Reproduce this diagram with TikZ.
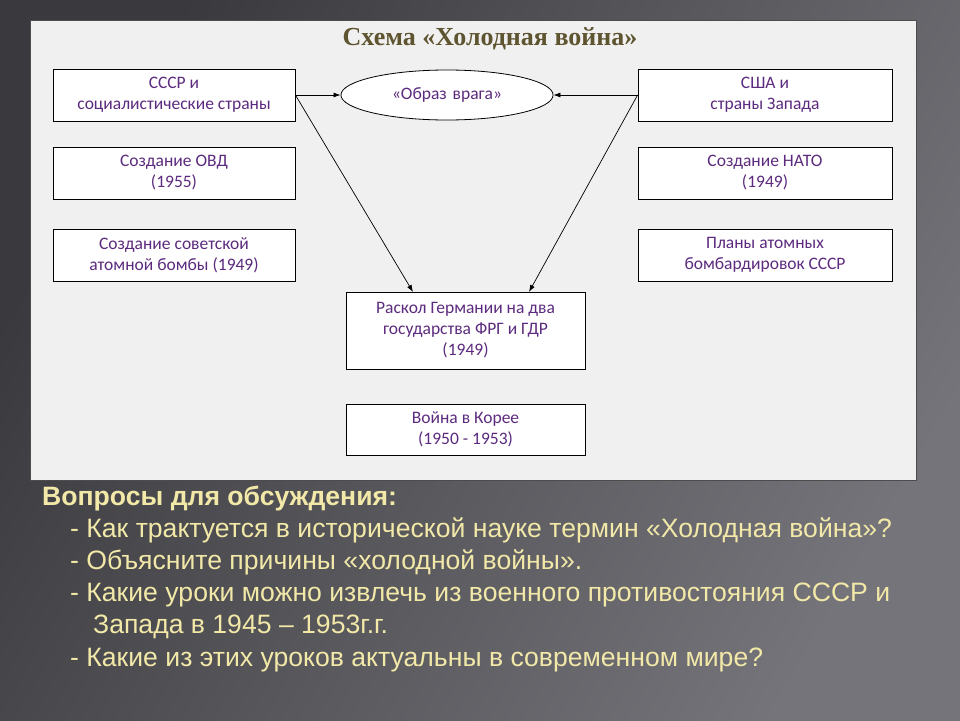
\documentclass[tikz,border=0pt]{standalone}
\usepackage{fontspec}
\setmainfont{Liberation Sans}
\newfontfamily\boxfont{Carlito}
\newfontfamily\titlefont{Liberation Serif}
\usetikzlibrary{shapes.geometric,arrows.meta}
\definecolor{bgA}{HTML}{3A3A3E}
\definecolor{bgB}{HTML}{74747A}
\definecolor{panel}{HTML}{F0F0F0}
\definecolor{boxtxt}{HTML}{5C2A7E}
\definecolor{ttl}{HTML}{5E5530}
\definecolor{qtxt}{HTML}{F2E8A8}
\tikzset{
  bx/.style={draw=black, fill=white, line width=0.8pt, font=\boxfont\fontsize{17.5}{21}\selectfont, text=boxtxt, align=center, inner sep=0pt},
  ar/.style={line width=0.7pt, -{Latex[length=7pt,width=5pt]}},
  qq/.style={anchor=west, text=qtxt, font=\fontsize{26.6}{30}\selectfont, inner sep=0pt},
}
\begin{document}
\begin{tikzpicture}[x=1pt,y=-1pt]
\useasboundingbox (0,0) rectangle (960,720);
\shade[left color=bgA, right color=bgB, shading angle=60] (0,0) rectangle (960,720);
\fill[panel] (30,20) rectangle (916,480);
\draw[black!70, line width=0.6pt] (30,20) rectangle (916,480);
\node[font=\titlefont\bfseries\fontsize{26}{30}\selectfont, text=ttl] (title) at (490,39) {Схема «Холодная война»};

\node[bx, minimum width=242, minimum height=52] (ussr) at (174,95) {СССР и\\социалистические страны};
\node[bx, minimum width=242, minimum height=52] (ovd) at (174,173) {Создание ОВД\\(1955)};
\node[bx, minimum width=242, minimum height=52] (bomb) at (174,255) {Создание советской\\атомной бомбы (1949)};
\node[bx, minimum width=254, minimum height=52] (usa) at (765,95) {США и\\страны Запада};
\node[bx, minimum width=254, minimum height=52] (nato) at (765,173) {Создание НАТО\\(1949)};
\node[bx, minimum width=254, minimum height=52] (plans) at (765,255) {Планы атомных\\бомбардировок СССР};
\node[bx, ellipse, minimum width=170, minimum height=50, inner sep=0pt, text width=150] (enemy) at (447,95) {«Образ врага»};
\node[bx, minimum width=239, minimum height=77] (ger) at (465.5,330.5) {Раскол Германии на два\\государства ФРГ и ГДР\\(1949)};
\node[bx, minimum width=239, minimum height=51] (korea) at (465.5,429.5) {Война в Корее\\(1950 - 1953)};

\coordinate (g1) at (413,292);
\coordinate (g2) at (529,292);
\draw[ar] (ussr.east) -- (enemy.west);
\draw[ar] (usa.west) -- (enemy.east);
\draw[ar] (ussr.east) -- (g1);
\draw[ar] (usa.west) -- (g2);

\begin{scope}[every node/.append style={qq}]
\node[font=\bfseries\fontsize{26.6}{30}\selectfont] (q0) at (42,498) {Вопросы для обсуждения:};
\node (q1) at (70,530) {- Как трактуется в исторической науке термин «Холодная война»?};
\node (q2) at (70,562) {- Объясните причины «холодной войны».};
\node (q3) at (70,595) {- Какие уроки можно извлечь из военного противостояния СССР и};
\node (q4) at (93,627) {Запада в 1945 – 1953г.г.};
\node (q5) at (70,660) {- Какие из этих уроков актуальны в современном мире?};
\end{scope}
\end{tikzpicture}
\end{document}
